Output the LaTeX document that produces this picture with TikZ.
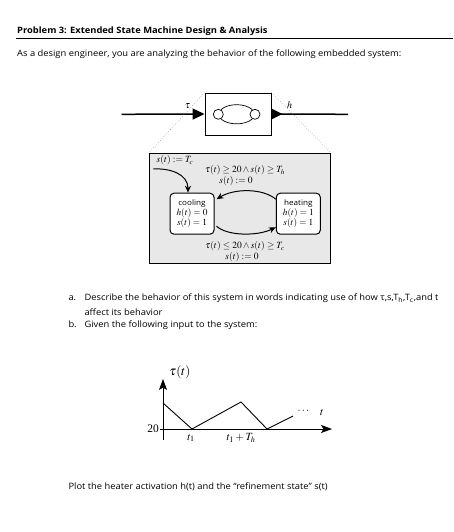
\documentclass[tikz,border=0pt]{standalone}
\usepackage{mathptmx}
\usepackage[no-math]{fontspec}
\setmainfont{Open Sans}[FakeStretch=1.07]
\newfontfamily\serifnum{Liberation Serif}
\usetikzlibrary{arrows.meta}
\begin{document}
\begin{tikzpicture}[x=1pt,y=-1pt,
  body/.style={inner sep=0pt,anchor=base west,font=\fontsize{8.75}{10}\selectfont},
  titletext/.style={inner sep=0pt,anchor=base west,font=\fontsize{8.75}{10}\selectfont\bfseries},
  smtext/.style={inner sep=0pt,font=\fontsize{9.5}{10}\selectfont},
  state/.style={draw,line width=1pt,rounded corners=4pt,fill=white,minimum width=44pt,minimum height=41pt,inner sep=1pt,align=center,font=\fontsize{7.6}{11.5}\selectfont},
  tr/.style={line width=1pt,-{Stealth[length=7pt,width=6pt]}},
  zoomline/.style={gray,dotted,line width=0.5pt},
  axis/.style={line width=0.7pt,-{Stealth[length=11pt,width=8pt,inset=2.5pt]}},
  sig/.style={line width=0.9pt},
  plotlab/.style={inner sep=0pt,font=\fontsize{11}{12}\selectfont}]
\path[use as bounding box] (0,0) rectangle (453,532);

% header
\node[titletext] (title) at (17,34) {Problem 3: Extended State Machine Design \& Analysis};
\coordinate (ruleL) at (16,38.3);
\coordinate (ruleR) at (453,38.3);
\draw[line width=0.8pt] (ruleL) -- (ruleR);
\node[body] (intro) at (17,56.7) {As a design engineer, you are analyzing the behavior of the following embedded system:};

% actor block
\node[draw,line width=0.9pt,minimum width=66pt,minimum height=42pt,inner sep=0pt] (blk) at (238,114) {};
\node[draw,circle,minimum size=10pt,inner sep=0pt,line width=0.7pt] (lc) at (218.3,114.3) {};
\node[draw,circle,minimum size=10pt,inner sep=0pt,line width=0.7pt] (rc) at (255,114.3) {};
\draw[line width=0.7pt] (lc.60) .. controls (228,103) and (245,103) .. (rc.120);
\draw[line width=0.7pt] (lc.-60) .. controls (228,125.5) and (245,125.5) .. (rc.-120);
\coordinate (inL) at (121.5,114.3);
\draw[line width=1.5pt,-{Triangle[length=12pt,width=11pt]}] (inL) -- (blk.west);
\coordinate (outR) at (348,114.3);
\draw[line width=1.5pt] (blk.east) -- (outR);
\fill ([yshift=5.5pt]blk.east) -- ([yshift=-5.5pt]blk.east) -- ([xshift=11pt]blk.east) -- cycle;
\node[inner sep=0pt,font=\fontsize{10}{10}\selectfont] (taulab) at (187.5,106) {$\tau$};
\node[inner sep=0pt,font=\fontsize{10}{10}\selectfont] (hlab) at (289.5,105) {$h$};

% refinement box
\node[draw,line width=0.9pt,fill=black!9,minimum width=181.4pt,minimum height=110pt,inner sep=0pt] (sm) at (240,208.3) {};
\draw[zoomline] (blk.north west) -- (sm.north west);
\draw[zoomline] (blk.north east) -- (sm.north east);

\node[smtext] (init) at (175,160.5) {$s(t) := T_c$};
\node[state] (cooling) at (192,213.7) {cooling\\[-1.5pt]{\fontsize{9.3}{10}\selectfont$h(t)=0$}\\[-1.5pt]{\fontsize{9.3}{10}\selectfont$s(t)=1$}};
\node[state] (heating) at (298.3,213.7) {heating\\[-1.5pt]{\fontsize{9.3}{10}\selectfont$h(t)=1$}\\[-1.5pt]{\fontsize{9.3}{10}\selectfont$s(t)=1$}};
\coordinate (initS) at (153.3,169);
\draw[tr] (initS) .. controls (170,168) and (188,174) .. ([xshift=-4pt]cooling.north);

\draw[tr] ([yshift=14.5pt]heating.west) .. controls +(-13,-11) and +(18,-11) .. ([xshift=2pt,yshift=14.5pt]cooling.east);
\draw[tr] ([xshift=2pt,yshift=-12.5pt]cooling.east) .. controls +(11,10) and +(-18,9) .. ([yshift=-13.5pt]heating.west);

\node[smtext] (g1a) at (245,170.5) {$\tau(t) \geq 20 \wedge s(t) \geq T_h$};
\node[smtext] (g1b) at (236,181.5) {$s(t) := 0$};
\node[smtext] (g2a) at (245,246.5) {$\tau(t) \leq 20 \wedge s(t) \geq T_c$};
\node[smtext] (g2b) at (242,257.5) {$s(t) := 0$};

% questions
\node[body] (qa) at (68.3,300.7) {a.};
\node[body] (qatext) at (84.3,300.7) {Describe the behavior of this system in words indicating use of how τ,s,T\textsubscript{h},T\textsubscript{c},and t};
\node[body] (qatext2) at (84.3,315.5) {affect its behavior};
\node[body] (qb) at (68.3,327.8) {b.};
\node[body] (qbtext) at (84.3,327.8) {Given the following input to the system:};

% plot
\coordinate (yb) at (163,440);
\coordinate (yt) at (163,379);
\coordinate (xl) at (160,429);
\coordinate (xr) at (332,429);
\draw[axis] (yb) -- (yt);
\draw[axis] (xl) -- (xr);
\coordinate (p0) at (163,403);
\coordinate (p1) at (192,429);
\coordinate (p2) at (241,402);
\coordinate (p3) at (267,429);
\coordinate (p4) at (293,416);
\draw[sig] (p0) -- (p1) -- (p2) -- (p3) -- (p4);
\node[plotlab,font=\fontsize{13}{14}\selectfont] (taut) at (180,372.5) {$\tau(t)$};
\node[plotlab,font=\fontsize{11.5}{12}\selectfont,anchor=east] (twenty) at (159,429) {\serifnum 20};
\node[plotlab] (t1) at (191,438) {$t_1$};
\node[plotlab] (t1th) at (241,438) {$t_1 + T_h$};
\node[plotlab] (dots) at (303.5,411) {$\cdots$};
\node[plotlab] (tlab) at (322,412.5) {$t$};

\node[body] (plotq) at (68.3,489.3) {Plot the heater activation h(t) and the “refinement state” s(t)};
\end{tikzpicture}
\end{document}
